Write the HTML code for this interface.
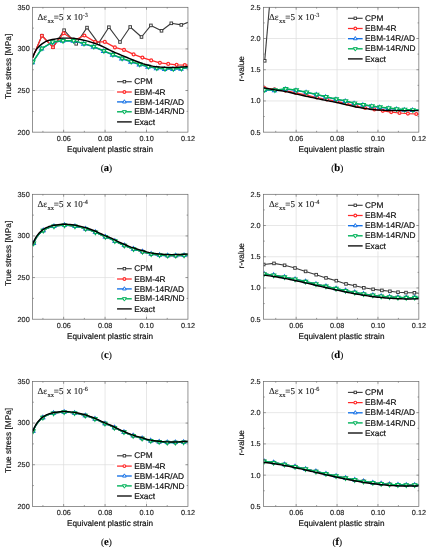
<!DOCTYPE html>
<html lang="en">
<head>
<meta charset="utf-8">
<title>Stress and r-value predictions</title>
<style>
html,body{margin:0;padding:0;background:#fff;}
body{width:430px;height:550px;overflow:hidden;}
svg{display:block;}
text{text-rendering:geometricPrecision;}
</style>
</head>
<body>
<svg width="430" height="550" viewBox="0 0 430 550">
<defs><clipPath id="c0"><rect x="32.55" y="7.3" width="155.4" height="124.85"/></clipPath><clipPath id="c1"><rect x="263.45" y="7.3" width="155.4" height="124.85"/></clipPath><clipPath id="c2"><rect x="32.55" y="194.3" width="155.4" height="124.9"/></clipPath><clipPath id="c3"><rect x="263.45" y="194.3" width="155.4" height="124.9"/></clipPath><clipPath id="c4"><rect x="32.55" y="381.4" width="155.4" height="125"/></clipPath><clipPath id="c5"><rect x="263.45" y="381.4" width="155.4" height="125"/></clipPath></defs>
<rect width="430" height="550" fill="#fff"/>
<path d="M63.63 7.3V132.15M105.07 7.3V132.15M146.51 7.3V132.15M32.55 90.53H187.95M32.55 48.92H187.95" stroke="#dcdcdc" stroke-width="0.7" fill="none"/>
<g clip-path="url(#c0)"><path d="M32.5 57.9L41.9 35.7L53 47.2L64.1 30.2L76.2 43.8L87 27.6L98.5 43.4L108.9 27.2L120 42L130.2 27L141.5 37L150.9 25.4L161.5 30.8L171.3 23.3L181.3 24.9L188 22.3" fill="none" stroke="#3a3a3a" stroke-width="1.1" stroke-linejoin="round"/><g fill="#fff" stroke="#3a3a3a" stroke-width="0.95"><rect x="40.6" y="34.4" width="2.6" height="2.6"/><rect x="51.7" y="45.9" width="2.6" height="2.6"/><rect x="62.8" y="28.9" width="2.6" height="2.6"/><rect x="74.9" y="42.5" width="2.6" height="2.6"/><rect x="85.7" y="26.3" width="2.6" height="2.6"/><rect x="97.2" y="42.1" width="2.6" height="2.6"/><rect x="107.6" y="25.9" width="2.6" height="2.6"/><rect x="118.7" y="40.7" width="2.6" height="2.6"/><rect x="128.9" y="25.7" width="2.6" height="2.6"/><rect x="140.2" y="35.7" width="2.6" height="2.6"/><rect x="149.6" y="24.1" width="2.6" height="2.6"/><rect x="160.2" y="29.5" width="2.6" height="2.6"/><rect x="170" y="22" width="2.6" height="2.6"/><rect x="180" y="23.6" width="2.6" height="2.6"/></g><path d="M32.5 57.9L41.9 35.7L53 47.2L63.6 33.2L74.3 40.3L84.4 35.5L95.1 41.9L104.8 41.9L114.9 47.4L124 49.9L133.6 54.4L142.4 57.6L151.2 60.4L159.9 62.8L168.2 63.9L176.6 64.8L184.8 65.1L188 65.2" fill="none" stroke="#ff2a2a" stroke-width="1.25" stroke-linejoin="round"/><g fill="#fff" stroke="#ff2a2a" stroke-width="1.25"><circle cx="41.9" cy="35.7" r="1.45"/><circle cx="53" cy="47.2" r="1.45"/><circle cx="63.6" cy="33.2" r="1.45"/><circle cx="74.3" cy="40.3" r="1.45"/><circle cx="84.4" cy="35.5" r="1.45"/><circle cx="95.1" cy="41.9" r="1.45"/><circle cx="104.8" cy="41.9" r="1.45"/><circle cx="114.9" cy="47.4" r="1.45"/><circle cx="124" cy="49.9" r="1.45"/><circle cx="133.6" cy="54.4" r="1.45"/><circle cx="142.4" cy="57.6" r="1.45"/><circle cx="151.2" cy="60.4" r="1.45"/><circle cx="159.9" cy="62.8" r="1.45"/><circle cx="168.2" cy="63.9" r="1.45"/><circle cx="176.6" cy="64.8" r="1.45"/><circle cx="184.8" cy="65.1" r="1.45"/></g><path d="M32.7 62.25L41.8 48.55L52.5 42.25L62.9 40.95L73.6 40.95L83.9 43.85L93.7 46.85L103.8 51.05L112.8 54.85L122 58.55L131.1 61.75L139.6 64.55L148.2 66.85L156.7 68.35L164.9 69.05L173.2 69.05L181.3 68.75L187.9 67.75" fill="none" stroke="#1470e6" stroke-width="1.35" stroke-linejoin="round"/><g fill="#fff" stroke="#1470e6" stroke-width="1.1"><path d="M32.4 60.25L34.35 63.62L30.45 63.62Z"/><path d="M41.5 46.55L43.45 49.92L39.55 49.92Z"/><path d="M52.2 40.25L54.15 43.62L50.25 43.62Z"/><path d="M62.6 38.95L64.55 42.32L60.65 42.32Z"/><path d="M73.3 38.95L75.25 42.32L71.35 42.32Z"/><path d="M83.6 41.85L85.55 45.22L81.65 45.22Z"/><path d="M93.4 44.85L95.35 48.22L91.45 48.22Z"/><path d="M103.5 49.05L105.45 52.42L101.55 52.42Z"/><path d="M112.5 52.85L114.45 56.22L110.55 56.22Z"/><path d="M121.7 56.55L123.65 59.92L119.75 59.92Z"/><path d="M130.8 59.75L132.75 63.12L128.85 63.12Z"/><path d="M139.3 62.55L141.25 65.92L137.35 65.92Z"/><path d="M147.9 64.85L149.85 68.22L145.95 68.22Z"/><path d="M156.4 66.35L158.35 69.72L154.45 69.72Z"/><path d="M164.6 67.05L166.55 70.42L162.65 70.42Z"/><path d="M172.9 67.05L174.85 70.42L170.95 70.42Z"/><path d="M181 66.75L182.95 70.12L179.05 70.12Z"/></g><path d="M32.8 62L41.9 48.3L52.6 42L63 40.7L73.7 40.7L84 43.6L93.8 46.6L103.9 50.8L112.9 54.6L122.1 58.3L131.2 61.5L139.7 64.3L148.3 66.6L156.8 68.1L165 68.8L173.3 68.8L181.4 68.5L188 67.5" fill="none" stroke="#00b25a" stroke-width="1.4" stroke-linejoin="round"/><g fill="#fff" stroke="#00b25a" stroke-width="1.1"><path d="M32.8 64.42L34.9 60.79L30.7 60.79Z"/><path d="M41.9 50.72L44 47.09L39.8 47.09Z"/><path d="M52.6 44.42L54.7 40.79L50.5 40.79Z"/><path d="M63 43.12L65.1 39.49L60.9 39.49Z"/><path d="M73.7 43.12L75.8 39.49L71.6 39.49Z"/><path d="M84 46.02L86.1 42.39L81.9 42.39Z"/><path d="M93.8 49.02L95.9 45.39L91.7 45.39Z"/><path d="M103.9 53.22L106 49.59L101.8 49.59Z"/><path d="M112.9 57.02L115 53.39L110.8 53.39Z"/><path d="M122.1 60.72L124.2 57.09L120 57.09Z"/><path d="M131.2 63.92L133.3 60.29L129.1 60.29Z"/><path d="M139.7 66.72L141.8 63.09L137.6 63.09Z"/><path d="M148.3 69.02L150.4 65.39L146.2 65.39Z"/><path d="M156.8 70.52L158.9 66.89L154.7 66.89Z"/><path d="M165 71.22L167.1 67.59L162.9 67.59Z"/><path d="M173.3 71.22L175.4 67.59L171.2 67.59Z"/><path d="M181.4 70.92L183.5 67.29L179.3 67.29Z"/></g><path d="M32.55 57.7L34.52 52.86L36.49 49.31L38.46 46.97L40.42 45.15L42.39 43.65L44.36 42.33L46.33 41.24L48.3 40.49L50.27 39.99L52.23 39.58L54.2 39.2L56.17 38.86L58.14 38.59L60.11 38.34L62.08 38.15L64.04 38.1L66.01 38.1L67.98 38.1L69.95 38.1L71.92 38.13L73.89 38.31L75.85 38.6L77.82 38.97L79.79 39.37L81.76 39.75L83.73 40.17L85.7 40.65L87.66 41.17L89.63 41.72L91.6 42.32L93.57 42.98L95.54 43.67L97.51 44.39L99.47 45.16L101.44 46.02L103.41 46.97L105.38 47.97L107.35 48.99L109.32 49.96L111.28 50.86L113.25 51.73L115.22 52.58L117.19 53.41L119.16 54.24L121.13 55.06L123.09 55.88L125.06 56.71L127.03 57.54L129 58.37L130.97 59.17L132.94 59.98L134.9 60.76L136.87 61.52L138.84 62.24L140.81 62.94L142.78 63.62L144.75 64.25L146.71 64.79L148.68 65.27L150.65 65.71L152.62 66.1L154.59 66.42L156.56 66.68L158.52 66.91L160.49 67.1L162.46 67.25L164.43 67.33L166.4 67.4L168.37 67.46L170.33 67.49L172.3 67.5L174.27 67.45L176.24 67.35L178.21 67.22L180.18 67.1L182.14 66.99L184.11 66.87L186.08 66.74L188.05 66.6" fill="none" stroke="#000" stroke-width="1.45" stroke-linejoin="round"/></g>
<path d="M63.63 132.15v-2.4M63.63 7.3v2.4M105.07 132.15v-2.4M105.07 7.3v2.4M146.51 132.15v-2.4M146.51 7.3v2.4M42.91 132.15v-1.3M42.91 7.3v1.3M84.35 132.15v-1.3M84.35 7.3v1.3M125.79 132.15v-1.3M125.79 7.3v1.3M167.23 132.15v-1.3M167.23 7.3v1.3M32.55 90.53h2.4M187.95 90.53h-2.4M32.55 48.92h2.4M187.95 48.92h-2.4M32.55 111.34h1.3M187.95 111.34h-1.3M32.55 69.73h1.3M187.95 69.73h-1.3M32.55 28.11h1.3M187.95 28.11h-1.3" stroke="#666" stroke-width="0.65" fill="none"/><rect x="32.55" y="7.3" width="155.4" height="124.85" fill="none" stroke="#666" stroke-width="0.7"/><g font-family='"Liberation Sans", Arial, sans-serif' font-size="7.3" fill="#222" stroke="#222" stroke-width="0.15"><text x="63.73" y="140.65" text-anchor="middle">0.06</text><text x="105.17" y="140.65" text-anchor="middle">0.08</text><text x="146.61" y="140.65" text-anchor="middle">0.10</text><text x="188.05" y="140.65" text-anchor="middle">0.12</text><text x="29.75" y="134.5" text-anchor="end">200</text><text x="29.75" y="92.88" text-anchor="end">250</text><text x="29.75" y="51.27" text-anchor="end">300</text><text x="29.75" y="9.65" text-anchor="end">350</text></g><text x="110.05" y="152.15" text-anchor="middle" font-family='"Liberation Sans", Arial, sans-serif' font-size="8.2" fill="#111" stroke="#111" stroke-width="0.18">Equivalent plastic strain</text><text transform="translate(10.55 66.4) rotate(-90)" text-anchor="middle" font-family='"Liberation Sans", Arial, sans-serif' font-size="8.3" fill="#111" stroke="#111" stroke-width="0.18">True stress [MPa]</text>
<rect x="114.55" y="74.9" width="70.5" height="52.4" fill="#fff"/><path d="M117.05 81.7H131.75" stroke="#3a3a3a" stroke-width="1.1" fill="none"/><g fill="#fff" stroke="#3a3a3a" stroke-width="0.9"><rect x="123.17" y="80.47" width="2.47" height="2.47"/></g><text x="134.15" y="84.3" font-family='"Liberation Sans", Arial, sans-serif' font-size="8.33" fill="#111" stroke="#111" stroke-width="0.18">CPM</text><path d="M117.05 92H131.75" stroke="#ff2a2a" stroke-width="1.25" fill="none"/><g fill="#fff" stroke="#ff2a2a" stroke-width="1.1"><circle cx="124.4" cy="92" r="1.38"/></g><text x="134.15" y="94.6" font-family='"Liberation Sans", Arial, sans-serif' font-size="8.33" fill="#111" stroke="#111" stroke-width="0.18">EBM-4R</text><path d="M117.05 101.9H131.75" stroke="#1470e6" stroke-width="1.35" fill="none"/><g fill="#fff" stroke="#1470e6" stroke-width="1.0"><path d="M124.4 99.76L126.25 102.96L122.55 102.96Z"/></g><text x="134.15" y="104.5" font-family='"Liberation Sans", Arial, sans-serif' font-size="8.33" fill="#111" stroke="#111" stroke-width="0.18">EBM-14R/AD</text><path d="M117.05 111.8H131.75" stroke="#00b25a" stroke-width="1.4" fill="none"/><g fill="#fff" stroke="#00b25a" stroke-width="1.0"><path d="M124.4 114.1L126.4 110.65L122.41 110.65Z"/></g><text x="134.15" y="114.4" font-family='"Liberation Sans", Arial, sans-serif' font-size="8.33" fill="#111" stroke="#111" stroke-width="0.18">EBM-14R/ND</text><path d="M117.05 121.9H131.75" stroke="#000" stroke-width="1.3" fill="none"/><text x="134.15" y="124.5" font-family='"Liberation Sans", Arial, sans-serif' font-size="8.33" fill="#111" stroke="#111" stroke-width="0.18">Exact</text>
<g font-family='"Liberation Serif", "Times New Roman", serif' font-size="9" fill="#222" stroke="#222" stroke-width="0.12"><text x="37.55" y="20.2">Δε</text><text x="47.45" y="22.5" font-size="6.6">xx</text><text x="53.85" y="20.2">=5</text><text x="66.65" y="20.2" font-family='"Liberation Sans", Arial, sans-serif' font-size="8.8">x</text><text x="73.85" y="20.2">10</text><text x="82.75" y="16.5" font-size="6.2">-3</text></g>
<text x="106.35" y="171.3" text-anchor="middle" font-family='"Liberation Serif", "Times New Roman", serif' font-size="9.2" fill="#000" stroke="#000" stroke-width="0.12">(<tspan font-weight="bold" font-size="10.6">a</tspan>)</text>
<path d="M296.17 7.3V132.15M337.06 7.3V132.15M377.96 7.3V132.15M263.45 100.94H418.85M263.45 69.73H418.85M263.45 38.51H418.85" stroke="#dcdcdc" stroke-width="0.7" fill="none"/>
<g clip-path="url(#c1)"><path d="M264.7 60.8L274 -46" fill="none" stroke="#3a3a3a" stroke-width="1.1" stroke-linejoin="round"/><g fill="#fff" stroke="#3a3a3a" stroke-width="0.95"><rect x="263.4" y="59.5" width="2.6" height="2.6"/><rect x="272.7" y="-47.3" width="2.6" height="2.6"/></g><path d="M264.5 88L274.5 89.2L285.5 90.6L296 92.9L306.5 95.2L317 97.5L327 99.5L337 101.4L346.8 103.7L356.4 106L365.1 108L374.4 109.4L382.8 110.8L391.2 112.1L399.5 113L407.9 113.6L416.3 114L419 114.1" fill="none" stroke="#ff2a2a" stroke-width="1.25" stroke-linejoin="round"/><g fill="#fff" stroke="#ff2a2a" stroke-width="1.25"><circle cx="264.5" cy="88" r="1.45"/><circle cx="274.5" cy="89.2" r="1.45"/><circle cx="285.5" cy="90.6" r="1.45"/><circle cx="296" cy="92.9" r="1.45"/><circle cx="306.5" cy="95.2" r="1.45"/><circle cx="317" cy="97.5" r="1.45"/><circle cx="327" cy="99.5" r="1.45"/><circle cx="337" cy="101.4" r="1.45"/><circle cx="346.8" cy="103.7" r="1.45"/><circle cx="356.4" cy="106" r="1.45"/><circle cx="365.1" cy="108" r="1.45"/><circle cx="374.4" cy="109.4" r="1.45"/><circle cx="382.8" cy="110.8" r="1.45"/><circle cx="391.2" cy="112.1" r="1.45"/><circle cx="399.5" cy="113" r="1.45"/><circle cx="407.9" cy="113.6" r="1.45"/><circle cx="416.3" cy="114" r="1.45"/></g><path d="M264.6 90.05L274.8 90.35L285.6 89.05L296.2 90.35L306.4 92.45L316.6 94.65L325.9 96.95L336.2 99.35L345.5 101.15L354.4 103.45L363.2 104.95L371.9 106.25L379.9 107.35L388.6 108.25L396.6 109.15L404.6 109.75L412.8 110.15L418.9 110.25" fill="none" stroke="#1470e6" stroke-width="1.35" stroke-linejoin="round"/><g fill="#fff" stroke="#1470e6" stroke-width="1.1"><path d="M264.3 88.05L266.25 91.42L262.35 91.42Z"/><path d="M274.5 88.35L276.45 91.72L272.55 91.72Z"/><path d="M285.3 87.05L287.25 90.42L283.35 90.42Z"/><path d="M295.9 88.35L297.85 91.72L293.95 91.72Z"/><path d="M306.1 90.45L308.05 93.82L304.15 93.82Z"/><path d="M316.3 92.65L318.25 96.02L314.35 96.02Z"/><path d="M325.6 94.95L327.55 98.32L323.65 98.32Z"/><path d="M335.9 97.35L337.85 100.72L333.95 100.72Z"/><path d="M345.2 99.15L347.15 102.52L343.25 102.52Z"/><path d="M354.1 101.45L356.05 104.82L352.15 104.82Z"/><path d="M362.9 102.95L364.85 106.32L360.95 106.32Z"/><path d="M371.6 104.25L373.55 107.62L369.65 107.62Z"/><path d="M379.6 105.35L381.55 108.72L377.65 108.72Z"/><path d="M388.3 106.25L390.25 109.62L386.35 109.62Z"/><path d="M396.3 107.15L398.25 110.52L394.35 110.52Z"/><path d="M404.3 107.75L406.25 111.12L402.35 111.12Z"/><path d="M412.5 108.15L414.45 111.52L410.55 111.52Z"/></g><path d="M264.7 89.8L274.9 90.1L285.7 88.8L296.3 90.1L306.5 92.2L316.7 94.4L326 96.7L336.3 99.1L345.6 100.9L354.5 103.2L363.3 104.7L372 106L380 107.1L388.7 108L396.7 108.9L404.7 109.5L412.9 109.9L419 110" fill="none" stroke="#00b25a" stroke-width="1.4" stroke-linejoin="round"/><g fill="#fff" stroke="#00b25a" stroke-width="1.1"><path d="M264.7 92.22L266.8 88.59L262.6 88.59Z"/><path d="M274.9 92.52L277 88.89L272.8 88.89Z"/><path d="M285.7 91.22L287.8 87.59L283.6 87.59Z"/><path d="M296.3 92.52L298.4 88.89L294.2 88.89Z"/><path d="M306.5 94.62L308.6 90.99L304.4 90.99Z"/><path d="M316.7 96.82L318.8 93.19L314.6 93.19Z"/><path d="M326 99.12L328.1 95.49L323.9 95.49Z"/><path d="M336.3 101.52L338.4 97.89L334.2 97.89Z"/><path d="M345.6 103.32L347.7 99.69L343.5 99.69Z"/><path d="M354.5 105.62L356.6 101.99L352.4 101.99Z"/><path d="M363.3 107.12L365.4 103.49L361.2 103.49Z"/><path d="M372 108.42L374.1 104.79L369.9 104.79Z"/><path d="M380 109.52L382.1 105.89L377.9 105.89Z"/><path d="M388.7 110.42L390.8 106.79L386.6 106.79Z"/><path d="M396.7 111.32L398.8 107.69L394.6 107.69Z"/><path d="M404.7 111.92L406.8 108.29L402.6 108.29Z"/><path d="M412.9 112.32L415 108.69L410.8 108.69Z"/></g><path d="M263.45 87.8L265.42 88.15L267.39 88.5L269.36 88.85L271.32 89.19L273.29 89.53L275.26 89.87L277.23 90.19L279.2 90.5L281.17 90.82L283.13 91.14L285.1 91.5L287.07 91.89L289.04 92.31L291.01 92.77L292.98 93.24L294.94 93.7L296.91 94.15L298.88 94.6L300.85 95.04L302.82 95.49L304.79 95.93L306.75 96.37L308.72 96.8L310.69 97.23L312.66 97.65L314.63 98.07L316.6 98.49L318.56 98.9L320.53 99.31L322.5 99.71L324.47 100.1L326.44 100.5L328.41 100.88L330.37 101.25L332.34 101.63L334.31 102.01L336.28 102.41L338.25 102.83L340.22 103.26L342.18 103.71L344.15 104.18L346.12 104.66L348.09 105.14L350.06 105.61L352.03 106.08L353.99 106.52L355.96 106.92L357.93 107.29L359.9 107.63L361.87 107.96L363.84 108.28L365.8 108.6L367.77 108.89L369.74 109.17L371.71 109.41L373.68 109.62L375.65 109.8L377.61 109.93L379.58 110.04L381.55 110.15L383.52 110.25L385.49 110.35L387.46 110.43L389.42 110.5L391.39 110.55L393.36 110.58L395.33 110.6L397.3 110.6L399.27 110.6L401.23 110.6L403.2 110.6L405.17 110.6L407.14 110.6L409.11 110.6L411.08 110.6L413.04 110.6L415.01 110.6L416.98 110.6L418.95 110.6" fill="none" stroke="#000" stroke-width="1.45" stroke-linejoin="round"/></g>
<path d="M296.17 132.15v-2.4M296.17 7.3v2.4M337.06 132.15v-2.4M337.06 7.3v2.4M377.96 132.15v-2.4M377.96 7.3v2.4M275.72 132.15v-1.3M275.72 7.3v1.3M316.61 132.15v-1.3M316.61 7.3v1.3M357.51 132.15v-1.3M357.51 7.3v1.3M398.4 132.15v-1.3M398.4 7.3v1.3M263.45 100.94h2.4M418.85 100.94h-2.4M263.45 69.73h2.4M418.85 69.73h-2.4M263.45 38.51h2.4M418.85 38.51h-2.4M263.45 116.54h1.3M418.85 116.54h-1.3M263.45 85.33h1.3M418.85 85.33h-1.3M263.45 54.12h1.3M418.85 54.12h-1.3M263.45 22.91h1.3M418.85 22.91h-1.3" stroke="#666" stroke-width="0.65" fill="none"/><rect x="263.45" y="7.3" width="155.4" height="124.85" fill="none" stroke="#666" stroke-width="0.7"/><g font-family='"Liberation Sans", Arial, sans-serif' font-size="7.3" fill="#222" stroke="#222" stroke-width="0.15"><text x="296.27" y="140.65" text-anchor="middle">0.06</text><text x="337.16" y="140.65" text-anchor="middle">0.08</text><text x="378.06" y="140.65" text-anchor="middle">0.10</text><text x="418.95" y="140.65" text-anchor="middle">0.12</text><text x="260.65" y="134.5" text-anchor="end">0.5</text><text x="260.65" y="103.29" text-anchor="end">1.0</text><text x="260.65" y="72.08" text-anchor="end">1.5</text><text x="260.65" y="40.86" text-anchor="end">2.0</text><text x="260.65" y="9.65" text-anchor="end">2.5</text></g><text x="341.45" y="152.15" text-anchor="middle" font-family='"Liberation Sans", Arial, sans-serif' font-size="8.2" fill="#111" stroke="#111" stroke-width="0.18">Equivalent plastic strain</text><text transform="translate(244.25 68.7) rotate(-90)" text-anchor="middle" font-family='"Liberation Sans", Arial, sans-serif' font-size="8.3" fill="#111" stroke="#111" stroke-width="0.18">r-value</text>
<rect x="345.45" y="11.5" width="70.5" height="52.8" fill="#fff"/><path d="M347.95 18.3H362.65" stroke="#3a3a3a" stroke-width="1.1" fill="none"/><g fill="#fff" stroke="#3a3a3a" stroke-width="0.9"><rect x="354.06" y="17.07" width="2.47" height="2.47"/></g><text x="365.05" y="20.9" font-family='"Liberation Sans", Arial, sans-serif' font-size="8.33" fill="#111" stroke="#111" stroke-width="0.18">CPM</text><path d="M347.95 28.5H362.65" stroke="#ff2a2a" stroke-width="1.25" fill="none"/><g fill="#fff" stroke="#ff2a2a" stroke-width="1.1"><circle cx="355.3" cy="28.5" r="1.38"/></g><text x="365.05" y="31.1" font-family='"Liberation Sans", Arial, sans-serif' font-size="8.33" fill="#111" stroke="#111" stroke-width="0.18">EBM-4R</text><path d="M347.95 38.7H362.65" stroke="#1470e6" stroke-width="1.35" fill="none"/><g fill="#fff" stroke="#1470e6" stroke-width="1.0"><path d="M355.3 36.56L357.15 39.76L353.45 39.76Z"/></g><text x="365.05" y="41.3" font-family='"Liberation Sans", Arial, sans-serif' font-size="8.33" fill="#111" stroke="#111" stroke-width="0.18">EBM-14R/AD</text><path d="M347.95 48.8H362.65" stroke="#00b25a" stroke-width="1.4" fill="none"/><g fill="#fff" stroke="#00b25a" stroke-width="1.0"><path d="M355.3 51.1L357.29 47.65L353.3 47.65Z"/></g><text x="365.05" y="51.4" font-family='"Liberation Sans", Arial, sans-serif' font-size="8.33" fill="#111" stroke="#111" stroke-width="0.18">EBM-14R/ND</text><path d="M347.95 58.9H362.65" stroke="#000" stroke-width="1.3" fill="none"/><text x="365.05" y="61.5" font-family='"Liberation Sans", Arial, sans-serif' font-size="8.33" fill="#111" stroke="#111" stroke-width="0.18">Exact</text>
<g font-family='"Liberation Serif", "Times New Roman", serif' font-size="9" fill="#222" stroke="#222" stroke-width="0.12"><text x="269.05" y="20.2">Δε</text><text x="278.95" y="22.5" font-size="6.6">xx</text><text x="285.35" y="20.2">=5</text><text x="298.15" y="20.2" font-family='"Liberation Sans", Arial, sans-serif' font-size="8.8">x</text><text x="305.35" y="20.2">10</text><text x="314.25" y="16.5" font-size="6.2">-3</text></g>
<text x="337.25" y="171.3" text-anchor="middle" font-family='"Liberation Serif", "Times New Roman", serif' font-size="9.2" fill="#000" stroke="#000" stroke-width="0.12">(<tspan font-weight="bold" font-size="10.6">b</tspan>)</text>
<path d="M63.63 194.3V319.2M105.07 194.3V319.2M146.51 194.3V319.2M32.55 277.57H187.95M32.55 235.93H187.95" stroke="#dcdcdc" stroke-width="0.7" fill="none"/>
<g clip-path="url(#c2)"><path d="M32.55 245.6L34.52 240.95L36.49 237.4L38.46 234.85L40.42 232.76L42.39 231.08L44.36 229.73L46.33 228.64L48.3 227.81L50.27 227.15L52.23 226.62L54.2 226.24L56.17 225.94L58.14 225.67L60.11 225.44L62.08 225.28L64.04 225.2L66.01 225.23L67.98 225.36L69.95 225.56L71.92 225.81L73.89 226.08L75.85 226.37L77.82 226.73L79.79 227.17L81.76 227.67L83.73 228.2L85.7 228.76L87.66 229.35L89.63 230.01L91.6 230.72L93.57 231.47L95.54 232.26L97.51 233.12L99.47 234.06L101.44 235.01L103.41 235.95L105.38 236.81L107.35 237.56L109.32 238.3L111.28 239.17L113.25 240.18L115.22 241.19L117.19 242.14L119.16 243.08L121.13 243.99L123.09 244.87L125.06 245.71L127.03 246.53L129 247.31L130.97 248.06L132.94 248.76L134.9 249.41L136.87 250.03L138.84 250.61L140.81 251.18L142.78 251.74L144.75 252.31L146.71 252.89L148.68 253.41L150.65 253.85L152.62 254.18L154.59 254.46L156.56 254.71L158.52 254.92L160.49 255.11L162.46 255.3L164.43 255.47L166.4 255.58L168.37 255.6L170.33 255.6L172.3 255.6L174.27 255.6L176.24 255.6L178.21 255.57L180.18 255.51L182.14 255.41L184.11 255.29L186.08 255.15L188.05 255" fill="none" stroke="#3a3a3a" stroke-width="1.1" stroke-linejoin="round"/><g fill="#fff" stroke="#3a3a3a" stroke-width="0.95"><rect x="32.2" y="241.98" width="2.6" height="2.6"/><rect x="41.95" y="229.16" width="2.6" height="2.6"/><rect x="52.65" y="224.98" width="2.6" height="2.6"/><rect x="63.25" y="223.9" width="2.6" height="2.6"/><rect x="73.65" y="224.93" width="2.6" height="2.6"/><rect x="84.35" y="227.44" width="2.6" height="2.6"/><rect x="94.05" y="230.88" width="2.6" height="2.6"/><rect x="104.05" y="235.5" width="2.6" height="2.6"/><rect x="113.55" y="239.7" width="2.6" height="2.6"/><rect x="123.05" y="244.12" width="2.6" height="2.6"/><rect x="132.25" y="247.67" width="2.6" height="2.6"/><rect x="141.25" y="250.37" width="2.6" height="2.6"/><rect x="149.85" y="252.63" width="2.6" height="2.6"/><rect x="158.25" y="253.72" width="2.6" height="2.6"/><rect x="166.35" y="254.3" width="2.6" height="2.6"/><rect x="174.45" y="254.3" width="2.6" height="2.6"/><rect x="182.75" y="254" width="2.6" height="2.6"/></g><path d="M32.55 245.6L34.52 240.95L36.49 237.4L38.46 234.85L40.42 232.76L42.39 231.08L44.36 229.73L46.33 228.64L48.3 227.81L50.27 227.15L52.23 226.62L54.2 226.24L56.17 225.94L58.14 225.67L60.11 225.44L62.08 225.28L64.04 225.2L66.01 225.23L67.98 225.36L69.95 225.56L71.92 225.81L73.89 226.08L75.85 226.37L77.82 226.73L79.79 227.17L81.76 227.67L83.73 228.2L85.7 228.76L87.66 229.35L89.63 230.01L91.6 230.72L93.57 231.47L95.54 232.26L97.51 233.12L99.47 234.06L101.44 235.01L103.41 235.95L105.38 236.81L107.35 237.56L109.32 238.3L111.28 239.17L113.25 240.18L115.22 241.19L117.19 242.14L119.16 243.08L121.13 243.99L123.09 244.87L125.06 245.71L127.03 246.53L129 247.31L130.97 248.06L132.94 248.76L134.9 249.41L136.87 250.03L138.84 250.61L140.81 251.18L142.78 251.74L144.75 252.31L146.71 252.89L148.68 253.41L150.65 253.85L152.62 254.18L154.59 254.46L156.56 254.71L158.52 254.92L160.49 255.11L162.46 255.3L164.43 255.47L166.4 255.58L168.37 255.6L170.33 255.6L172.3 255.6L174.27 255.6L176.24 255.6L178.21 255.57L180.18 255.51L182.14 255.41L184.11 255.29L186.08 255.15L188.05 255" fill="none" stroke="#ff2a2a" stroke-width="1.25" stroke-linejoin="round"/><g fill="#fff" stroke="#ff2a2a" stroke-width="1.25"><circle cx="33.5" cy="243.28" r="1.45"/><circle cx="43.25" cy="230.46" r="1.45"/><circle cx="53.95" cy="226.28" r="1.45"/><circle cx="64.55" cy="225.2" r="1.45"/><circle cx="74.95" cy="226.23" r="1.45"/><circle cx="85.65" cy="228.74" r="1.45"/><circle cx="95.35" cy="232.18" r="1.45"/><circle cx="105.35" cy="236.8" r="1.45"/><circle cx="114.85" cy="241" r="1.45"/><circle cx="124.35" cy="245.42" r="1.45"/><circle cx="133.55" cy="248.97" r="1.45"/><circle cx="142.55" cy="251.67" r="1.45"/><circle cx="151.15" cy="253.93" r="1.45"/><circle cx="159.55" cy="255.02" r="1.45"/><circle cx="167.65" cy="255.6" r="1.45"/><circle cx="175.75" cy="255.6" r="1.45"/><circle cx="184.05" cy="255.3" r="1.45"/></g><path d="M32.55 245.6L34.52 240.95L36.49 237.4L38.46 234.85L40.42 232.76L42.39 231.08L44.36 229.73L46.33 228.64L48.3 227.81L50.27 227.15L52.23 226.62L54.2 226.24L56.17 225.94L58.14 225.67L60.11 225.44L62.08 225.28L64.04 225.2L66.01 225.23L67.98 225.36L69.95 225.56L71.92 225.81L73.89 226.08L75.85 226.37L77.82 226.73L79.79 227.17L81.76 227.67L83.73 228.2L85.7 228.76L87.66 229.35L89.63 230.01L91.6 230.72L93.57 231.47L95.54 232.26L97.51 233.12L99.47 234.06L101.44 235.01L103.41 235.95L105.38 236.81L107.35 237.56L109.32 238.3L111.28 239.17L113.25 240.18L115.22 241.19L117.19 242.14L119.16 243.08L121.13 243.99L123.09 244.87L125.06 245.71L127.03 246.53L129 247.31L130.97 248.06L132.94 248.76L134.9 249.41L136.87 250.03L138.84 250.61L140.81 251.18L142.78 251.74L144.75 252.31L146.71 252.89L148.68 253.41L150.65 253.85L152.62 254.18L154.59 254.46L156.56 254.71L158.52 254.92L160.49 255.11L162.46 255.3L164.43 255.47L166.4 255.58L168.37 255.6L170.33 255.6L172.3 255.6L174.27 255.6L176.24 255.6L178.21 255.57L180.18 255.51L182.14 255.41L184.11 255.29L186.08 255.15L188.05 255" fill="none" stroke="#1470e6" stroke-width="1.35" stroke-linejoin="round"/><g fill="#fff" stroke="#1470e6" stroke-width="1.1"><path d="M33.5 241.03L35.45 244.4L31.55 244.4Z"/><path d="M43.25 228.21L45.2 231.58L41.3 231.58Z"/><path d="M53.95 224.03L55.9 227.4L52 227.4Z"/><path d="M64.55 222.95L66.5 226.32L62.6 226.32Z"/><path d="M74.95 223.98L76.9 227.35L73 227.35Z"/><path d="M85.65 226.49L87.6 229.86L83.7 229.86Z"/><path d="M95.35 229.93L97.3 233.3L93.4 233.3Z"/><path d="M105.35 234.55L107.3 237.92L103.4 237.92Z"/><path d="M114.85 238.75L116.8 242.12L112.9 242.12Z"/><path d="M124.35 243.17L126.3 246.54L122.4 246.54Z"/><path d="M133.55 246.72L135.5 250.09L131.6 250.09Z"/><path d="M142.55 249.42L144.5 252.79L140.6 252.79Z"/><path d="M151.15 251.68L153.1 255.05L149.2 255.05Z"/><path d="M159.55 252.77L161.5 256.14L157.6 256.14Z"/><path d="M167.65 253.35L169.6 256.72L165.7 256.72Z"/><path d="M175.75 253.35L177.7 256.72L173.8 256.72Z"/><path d="M184.05 253.05L186 256.42L182.1 256.42Z"/></g><path d="M32.55 245.6L34.52 240.95L36.49 237.4L38.46 234.85L40.42 232.76L42.39 231.08L44.36 229.73L46.33 228.64L48.3 227.81L50.27 227.15L52.23 226.62L54.2 226.24L56.17 225.94L58.14 225.67L60.11 225.44L62.08 225.28L64.04 225.2L66.01 225.23L67.98 225.36L69.95 225.56L71.92 225.81L73.89 226.08L75.85 226.37L77.82 226.73L79.79 227.17L81.76 227.67L83.73 228.2L85.7 228.76L87.66 229.35L89.63 230.01L91.6 230.72L93.57 231.47L95.54 232.26L97.51 233.12L99.47 234.06L101.44 235.01L103.41 235.95L105.38 236.81L107.35 237.56L109.32 238.3L111.28 239.17L113.25 240.18L115.22 241.19L117.19 242.14L119.16 243.08L121.13 243.99L123.09 244.87L125.06 245.71L127.03 246.53L129 247.31L130.97 248.06L132.94 248.76L134.9 249.41L136.87 250.03L138.84 250.61L140.81 251.18L142.78 251.74L144.75 252.31L146.71 252.89L148.68 253.41L150.65 253.85L152.62 254.18L154.59 254.46L156.56 254.71L158.52 254.92L160.49 255.11L162.46 255.3L164.43 255.47L166.4 255.58L168.37 255.6L170.33 255.6L172.3 255.6L174.27 255.6L176.24 255.6L178.21 255.57L180.18 255.51L182.14 255.41L184.11 255.29L186.08 255.15L188.05 255" fill="none" stroke="#00b25a" stroke-width="1.4" stroke-linejoin="round"/><g fill="#fff" stroke="#00b25a" stroke-width="1.1"><path d="M33.5 245.7L35.6 242.07L31.4 242.07Z"/><path d="M43.25 232.88L45.35 229.25L41.15 229.25Z"/><path d="M53.95 228.7L56.05 225.07L51.85 225.07Z"/><path d="M64.55 227.62L66.65 223.99L62.45 223.99Z"/><path d="M74.95 228.65L77.05 225.02L72.85 225.02Z"/><path d="M85.65 231.16L87.75 227.53L83.55 227.53Z"/><path d="M95.35 234.6L97.45 230.97L93.25 230.97Z"/><path d="M105.35 239.22L107.45 235.59L103.25 235.59Z"/><path d="M114.85 243.42L116.95 239.79L112.75 239.79Z"/><path d="M124.35 247.84L126.45 244.21L122.25 244.21Z"/><path d="M133.55 251.39L135.65 247.76L131.45 247.76Z"/><path d="M142.55 254.09L144.65 250.46L140.45 250.46Z"/><path d="M151.15 256.35L153.25 252.72L149.05 252.72Z"/><path d="M159.55 257.44L161.65 253.81L157.45 253.81Z"/><path d="M167.65 258.02L169.75 254.39L165.55 254.39Z"/><path d="M175.75 258.02L177.85 254.39L173.65 254.39Z"/><path d="M184.05 257.72L186.15 254.09L181.95 254.09Z"/></g><path d="M32.55 244.6L34.52 239.95L36.49 236.4L38.46 233.85L40.42 231.76L42.39 230.08L44.36 228.73L46.33 227.64L48.3 226.81L50.27 226.15L52.23 225.62L54.2 225.24L56.17 224.94L58.14 224.67L60.11 224.44L62.08 224.28L64.04 224.2L66.01 224.23L67.98 224.36L69.95 224.56L71.92 224.81L73.89 225.08L75.85 225.37L77.82 225.73L79.79 226.17L81.76 226.67L83.73 227.2L85.7 227.76L87.66 228.35L89.63 229.01L91.6 229.72L93.57 230.47L95.54 231.26L97.51 232.12L99.47 233.06L101.44 234.01L103.41 234.95L105.38 235.81L107.35 236.56L109.32 237.3L111.28 238.17L113.25 239.18L115.22 240.19L117.19 241.14L119.16 242.08L121.13 242.99L123.09 243.87L125.06 244.71L127.03 245.53L129 246.31L130.97 247.06L132.94 247.76L134.9 248.41L136.87 249.03L138.84 249.61L140.81 250.18L142.78 250.74L144.75 251.31L146.71 251.89L148.68 252.41L150.65 252.85L152.62 253.18L154.59 253.46L156.56 253.71L158.52 253.92L160.49 254.11L162.46 254.3L164.43 254.47L166.4 254.58L168.37 254.6L170.33 254.6L172.3 254.6L174.27 254.6L176.24 254.6L178.21 254.57L180.18 254.51L182.14 254.41L184.11 254.29L186.08 254.15L188.05 254" fill="none" stroke="#000" stroke-width="1.45" stroke-linejoin="round"/></g>
<path d="M63.63 319.2v-2.4M63.63 194.3v2.4M105.07 319.2v-2.4M105.07 194.3v2.4M146.51 319.2v-2.4M146.51 194.3v2.4M42.91 319.2v-1.3M42.91 194.3v1.3M84.35 319.2v-1.3M84.35 194.3v1.3M125.79 319.2v-1.3M125.79 194.3v1.3M167.23 319.2v-1.3M167.23 194.3v1.3M32.55 277.57h2.4M187.95 277.57h-2.4M32.55 235.93h2.4M187.95 235.93h-2.4M32.55 298.38h1.3M187.95 298.38h-1.3M32.55 256.75h1.3M187.95 256.75h-1.3M32.55 215.12h1.3M187.95 215.12h-1.3" stroke="#666" stroke-width="0.65" fill="none"/><rect x="32.55" y="194.3" width="155.4" height="124.9" fill="none" stroke="#666" stroke-width="0.7"/><g font-family='"Liberation Sans", Arial, sans-serif' font-size="7.3" fill="#222" stroke="#222" stroke-width="0.15"><text x="63.73" y="327.7" text-anchor="middle">0.06</text><text x="105.17" y="327.7" text-anchor="middle">0.08</text><text x="146.61" y="327.7" text-anchor="middle">0.10</text><text x="188.05" y="327.7" text-anchor="middle">0.12</text><text x="29.75" y="321.55" text-anchor="end">200</text><text x="29.75" y="279.92" text-anchor="end">250</text><text x="29.75" y="238.28" text-anchor="end">300</text><text x="29.75" y="196.65" text-anchor="end">350</text></g><text x="110.05" y="339.2" text-anchor="middle" font-family='"Liberation Sans", Arial, sans-serif' font-size="8.2" fill="#111" stroke="#111" stroke-width="0.18">Equivalent plastic strain</text><text transform="translate(10.55 253.4) rotate(-90)" text-anchor="middle" font-family='"Liberation Sans", Arial, sans-serif' font-size="8.3" fill="#111" stroke="#111" stroke-width="0.18">True stress [MPa]</text>
<rect x="114.55" y="261.9" width="70.5" height="52.4" fill="#fff"/><path d="M117.05 268.7H131.75" stroke="#3a3a3a" stroke-width="1.1" fill="none"/><g fill="#fff" stroke="#3a3a3a" stroke-width="0.9"><rect x="123.17" y="267.47" width="2.47" height="2.47"/></g><text x="134.15" y="271.3" font-family='"Liberation Sans", Arial, sans-serif' font-size="8.33" fill="#111" stroke="#111" stroke-width="0.18">CPM</text><path d="M117.05 279H131.75" stroke="#ff2a2a" stroke-width="1.25" fill="none"/><g fill="#fff" stroke="#ff2a2a" stroke-width="1.1"><circle cx="124.4" cy="279" r="1.38"/></g><text x="134.15" y="281.6" font-family='"Liberation Sans", Arial, sans-serif' font-size="8.33" fill="#111" stroke="#111" stroke-width="0.18">EBM-4R</text><path d="M117.05 288.9H131.75" stroke="#1470e6" stroke-width="1.35" fill="none"/><g fill="#fff" stroke="#1470e6" stroke-width="1.0"><path d="M124.4 286.76L126.25 289.96L122.55 289.96Z"/></g><text x="134.15" y="291.5" font-family='"Liberation Sans", Arial, sans-serif' font-size="8.33" fill="#111" stroke="#111" stroke-width="0.18">EBM-14R/AD</text><path d="M117.05 298.8H131.75" stroke="#00b25a" stroke-width="1.4" fill="none"/><g fill="#fff" stroke="#00b25a" stroke-width="1.0"><path d="M124.4 301.1L126.4 297.65L122.41 297.65Z"/></g><text x="134.15" y="301.4" font-family='"Liberation Sans", Arial, sans-serif' font-size="8.33" fill="#111" stroke="#111" stroke-width="0.18">EBM-14R/ND</text><path d="M117.05 308.9H131.75" stroke="#000" stroke-width="1.3" fill="none"/><text x="134.15" y="311.5" font-family='"Liberation Sans", Arial, sans-serif' font-size="8.33" fill="#111" stroke="#111" stroke-width="0.18">Exact</text>
<g font-family='"Liberation Serif", "Times New Roman", serif' font-size="9" fill="#222" stroke="#222" stroke-width="0.12"><text x="37.55" y="207.2">Δε</text><text x="47.45" y="209.5" font-size="6.6">xx</text><text x="53.85" y="207.2">=5</text><text x="66.65" y="207.2" font-family='"Liberation Sans", Arial, sans-serif' font-size="8.8">x</text><text x="73.85" y="207.2">10</text><text x="82.75" y="203.5" font-size="6.2">-4</text></g>
<text x="106.35" y="358.3" text-anchor="middle" font-family='"Liberation Serif", "Times New Roman", serif' font-size="9.2" fill="#000" stroke="#000" stroke-width="0.12">(<tspan font-weight="bold" font-size="10.6">c</tspan>)</text>
<path d="M296.17 194.3V319.2M337.06 194.3V319.2M377.96 194.3V319.2M263.45 287.98H418.85M263.45 256.75H418.85M263.45 225.53H418.85" stroke="#dcdcdc" stroke-width="0.7" fill="none"/>
<g clip-path="url(#c3)"><path d="M263.7 264.5L274 263.4L284.6 265.3L295 268L305.6 271.4L316.2 274.7L326 277.9L336.3 280.7L346 283.9L354.9 285.7L363.8 287.8L373.1 289.3L381.9 290.4L389.9 291.3L398 292.2L406 292.6L414.4 292.8L419 293.2" fill="none" stroke="#3a3a3a" stroke-width="1.1" stroke-linejoin="round"/><g fill="#fff" stroke="#3a3a3a" stroke-width="0.95"><rect x="262.4" y="263.2" width="2.6" height="2.6"/><rect x="272.7" y="262.1" width="2.6" height="2.6"/><rect x="283.3" y="264" width="2.6" height="2.6"/><rect x="293.7" y="266.7" width="2.6" height="2.6"/><rect x="304.3" y="270.1" width="2.6" height="2.6"/><rect x="314.9" y="273.4" width="2.6" height="2.6"/><rect x="324.7" y="276.6" width="2.6" height="2.6"/><rect x="335" y="279.4" width="2.6" height="2.6"/><rect x="344.7" y="282.6" width="2.6" height="2.6"/><rect x="353.6" y="284.4" width="2.6" height="2.6"/><rect x="362.5" y="286.5" width="2.6" height="2.6"/><rect x="371.8" y="288" width="2.6" height="2.6"/><rect x="380.6" y="289.1" width="2.6" height="2.6"/><rect x="388.6" y="290" width="2.6" height="2.6"/><rect x="396.7" y="290.9" width="2.6" height="2.6"/><rect x="404.7" y="291.3" width="2.6" height="2.6"/><rect x="413.1" y="291.5" width="2.6" height="2.6"/></g><path d="M263.45 273.84L265.42 274.07L267.39 274.31L269.36 274.57L271.32 274.85L273.29 275.14L275.26 275.45L277.23 275.78L279.2 276.11L281.17 276.46L283.13 276.82L285.1 277.2L287.07 277.58L289.04 277.98L291.01 278.38L292.98 278.79L294.94 279.21L296.91 279.64L298.88 280.07L300.85 280.51L302.82 280.95L304.79 281.4L306.75 281.86L308.72 282.31L310.69 282.77L312.66 283.23L314.63 283.69L316.6 284.15L318.56 284.62L320.53 285.08L322.5 285.54L324.47 286L326.44 286.45L328.41 286.9L330.37 287.35L332.34 287.8L334.31 288.24L336.28 288.68L338.25 289.11L340.22 289.53L342.18 289.95L344.15 290.36L346.12 290.76L348.09 291.16L350.06 291.54L352.03 291.92L353.99 292.29L355.96 292.65L357.93 293L359.9 293.34L361.87 293.67L363.84 293.98L365.8 294.29L367.77 294.58L369.74 294.86L371.71 295.13L373.68 295.39L375.65 295.63L377.61 295.86L379.58 296.08L381.55 296.28L383.52 296.47L385.49 296.65L387.46 296.81L389.42 296.96L391.39 297.09L393.36 297.21L395.33 297.32L397.3 297.41L399.27 297.48L401.23 297.54L403.2 297.59L405.17 297.62L407.14 297.64L409.11 297.64L411.08 297.63L413.04 297.6L415.01 297.56L416.98 297.51L418.95 297.44" fill="none" stroke="#ff2a2a" stroke-width="1.25" stroke-linejoin="round"/><g fill="#fff" stroke="#ff2a2a" stroke-width="1.25"><circle cx="264.05" cy="273.91" r="1.45"/><circle cx="273.65" cy="275.2" r="1.45"/><circle cx="284.45" cy="277.07" r="1.45"/><circle cx="295.05" cy="279.23" r="1.45"/><circle cx="305.55" cy="281.58" r="1.45"/><circle cx="315.95" cy="284" r="1.45"/><circle cx="325.95" cy="286.34" r="1.45"/><circle cx="336.05" cy="288.63" r="1.45"/><circle cx="345.55" cy="290.65" r="1.45"/><circle cx="354.75" cy="292.43" r="1.45"/><circle cx="363.55" cy="293.94" r="1.45"/><circle cx="372.85" cy="295.28" r="1.45"/><circle cx="381.15" cy="296.24" r="1.45"/><circle cx="389.55" cy="296.97" r="1.45"/><circle cx="397.95" cy="297.43" r="1.45"/><circle cx="406.25" cy="297.63" r="1.45"/><circle cx="414.65" cy="297.57" r="1.45"/></g><path d="M263.45 273.84L265.42 274.07L267.39 274.31L269.36 274.57L271.32 274.85L273.29 275.14L275.26 275.45L277.23 275.78L279.2 276.11L281.17 276.46L283.13 276.82L285.1 277.2L287.07 277.58L289.04 277.98L291.01 278.38L292.98 278.79L294.94 279.21L296.91 279.64L298.88 280.07L300.85 280.51L302.82 280.95L304.79 281.4L306.75 281.86L308.72 282.31L310.69 282.77L312.66 283.23L314.63 283.69L316.6 284.15L318.56 284.62L320.53 285.08L322.5 285.54L324.47 286L326.44 286.45L328.41 286.9L330.37 287.35L332.34 287.8L334.31 288.24L336.28 288.68L338.25 289.11L340.22 289.53L342.18 289.95L344.15 290.36L346.12 290.76L348.09 291.16L350.06 291.54L352.03 291.92L353.99 292.29L355.96 292.65L357.93 293L359.9 293.34L361.87 293.67L363.84 293.98L365.8 294.29L367.77 294.58L369.74 294.86L371.71 295.13L373.68 295.39L375.65 295.63L377.61 295.86L379.58 296.08L381.55 296.28L383.52 296.47L385.49 296.65L387.46 296.81L389.42 296.96L391.39 297.09L393.36 297.21L395.33 297.32L397.3 297.41L399.27 297.48L401.23 297.54L403.2 297.59L405.17 297.62L407.14 297.64L409.11 297.64L411.08 297.63L413.04 297.6L415.01 297.56L416.98 297.51L418.95 297.44" fill="none" stroke="#1470e6" stroke-width="1.35" stroke-linejoin="round"/><g fill="#fff" stroke="#1470e6" stroke-width="1.1"><path d="M264.05 271.66L266 275.03L262.1 275.03Z"/><path d="M273.65 272.95L275.6 276.32L271.7 276.32Z"/><path d="M284.45 274.82L286.4 278.19L282.5 278.19Z"/><path d="M295.05 276.98L297 280.35L293.1 280.35Z"/><path d="M305.55 279.33L307.5 282.7L303.6 282.7Z"/><path d="M315.95 281.75L317.9 285.12L314 285.12Z"/><path d="M325.95 284.09L327.9 287.46L324 287.46Z"/><path d="M336.05 286.38L338 289.75L334.1 289.75Z"/><path d="M345.55 288.4L347.5 291.77L343.6 291.77Z"/><path d="M354.75 290.18L356.7 293.55L352.8 293.55Z"/><path d="M363.55 291.69L365.5 295.06L361.6 295.06Z"/><path d="M372.85 293.03L374.8 296.4L370.9 296.4Z"/><path d="M381.15 293.99L383.1 297.36L379.2 297.36Z"/><path d="M389.55 294.72L391.5 298.09L387.6 298.09Z"/><path d="M397.95 295.18L399.9 298.55L396 298.55Z"/><path d="M406.25 295.38L408.2 298.75L404.3 298.75Z"/><path d="M414.65 295.32L416.6 298.69L412.7 298.69Z"/></g><path d="M263.45 273.84L265.42 274.07L267.39 274.31L269.36 274.57L271.32 274.85L273.29 275.14L275.26 275.45L277.23 275.78L279.2 276.11L281.17 276.46L283.13 276.82L285.1 277.2L287.07 277.58L289.04 277.98L291.01 278.38L292.98 278.79L294.94 279.21L296.91 279.64L298.88 280.07L300.85 280.51L302.82 280.95L304.79 281.4L306.75 281.86L308.72 282.31L310.69 282.77L312.66 283.23L314.63 283.69L316.6 284.15L318.56 284.62L320.53 285.08L322.5 285.54L324.47 286L326.44 286.45L328.41 286.9L330.37 287.35L332.34 287.8L334.31 288.24L336.28 288.68L338.25 289.11L340.22 289.53L342.18 289.95L344.15 290.36L346.12 290.76L348.09 291.16L350.06 291.54L352.03 291.92L353.99 292.29L355.96 292.65L357.93 293L359.9 293.34L361.87 293.67L363.84 293.98L365.8 294.29L367.77 294.58L369.74 294.86L371.71 295.13L373.68 295.39L375.65 295.63L377.61 295.86L379.58 296.08L381.55 296.28L383.52 296.47L385.49 296.65L387.46 296.81L389.42 296.96L391.39 297.09L393.36 297.21L395.33 297.32L397.3 297.41L399.27 297.48L401.23 297.54L403.2 297.59L405.17 297.62L407.14 297.64L409.11 297.64L411.08 297.63L413.04 297.6L415.01 297.56L416.98 297.51L418.95 297.44" fill="none" stroke="#00b25a" stroke-width="1.4" stroke-linejoin="round"/><g fill="#fff" stroke="#00b25a" stroke-width="1.1"><path d="M264.05 276.33L266.15 272.7L261.95 272.7Z"/><path d="M273.65 277.62L275.75 273.99L271.55 273.99Z"/><path d="M284.45 279.49L286.55 275.86L282.35 275.86Z"/><path d="M295.05 281.65L297.15 278.02L292.95 278.02Z"/><path d="M305.55 284L307.65 280.37L303.45 280.37Z"/><path d="M315.95 286.42L318.05 282.79L313.85 282.79Z"/><path d="M325.95 288.76L328.05 285.13L323.85 285.13Z"/><path d="M336.05 291.05L338.15 287.42L333.95 287.42Z"/><path d="M345.55 293.07L347.65 289.44L343.45 289.44Z"/><path d="M354.75 294.85L356.85 291.22L352.65 291.22Z"/><path d="M363.55 296.36L365.65 292.73L361.45 292.73Z"/><path d="M372.85 297.7L374.95 294.07L370.75 294.07Z"/><path d="M381.15 298.66L383.25 295.03L379.05 295.03Z"/><path d="M389.55 299.39L391.65 295.76L387.45 295.76Z"/><path d="M397.95 299.85L400.05 296.22L395.85 296.22Z"/><path d="M406.25 300.05L408.35 296.42L404.15 296.42Z"/><path d="M414.65 299.99L416.75 296.36L412.55 296.36Z"/></g><path d="M263.45 275.14L265.42 275.37L267.39 275.61L269.36 275.87L271.32 276.15L273.29 276.44L275.26 276.75L277.23 277.08L279.2 277.41L281.17 277.76L283.13 278.12L285.1 278.5L287.07 278.88L289.04 279.28L291.01 279.68L292.98 280.09L294.94 280.51L296.91 280.94L298.88 281.37L300.85 281.81L302.82 282.25L304.79 282.7L306.75 283.16L308.72 283.61L310.69 284.07L312.66 284.53L314.63 284.99L316.6 285.45L318.56 285.92L320.53 286.38L322.5 286.84L324.47 287.3L326.44 287.75L328.41 288.2L330.37 288.65L332.34 289.1L334.31 289.54L336.28 289.98L338.25 290.41L340.22 290.83L342.18 291.25L344.15 291.66L346.12 292.06L348.09 292.46L350.06 292.84L352.03 293.22L353.99 293.59L355.96 293.95L357.93 294.3L359.9 294.64L361.87 294.97L363.84 295.28L365.8 295.59L367.77 295.88L369.74 296.16L371.71 296.43L373.68 296.69L375.65 296.93L377.61 297.16L379.58 297.38L381.55 297.58L383.52 297.77L385.49 297.95L387.46 298.11L389.42 298.26L391.39 298.39L393.36 298.51L395.33 298.62L397.3 298.71L399.27 298.78L401.23 298.84L403.2 298.89L405.17 298.92L407.14 298.94L409.11 298.94L411.08 298.93L413.04 298.9L415.01 298.86L416.98 298.81L418.95 298.74" fill="none" stroke="#000" stroke-width="1.45" stroke-linejoin="round"/></g>
<path d="M296.17 319.2v-2.4M296.17 194.3v2.4M337.06 319.2v-2.4M337.06 194.3v2.4M377.96 319.2v-2.4M377.96 194.3v2.4M275.72 319.2v-1.3M275.72 194.3v1.3M316.61 319.2v-1.3M316.61 194.3v1.3M357.51 319.2v-1.3M357.51 194.3v1.3M398.4 319.2v-1.3M398.4 194.3v1.3M263.45 287.98h2.4M418.85 287.98h-2.4M263.45 256.75h2.4M418.85 256.75h-2.4M263.45 225.53h2.4M418.85 225.53h-2.4M263.45 303.59h1.3M418.85 303.59h-1.3M263.45 272.36h1.3M418.85 272.36h-1.3M263.45 241.14h1.3M418.85 241.14h-1.3M263.45 209.91h1.3M418.85 209.91h-1.3" stroke="#666" stroke-width="0.65" fill="none"/><rect x="263.45" y="194.3" width="155.4" height="124.9" fill="none" stroke="#666" stroke-width="0.7"/><g font-family='"Liberation Sans", Arial, sans-serif' font-size="7.3" fill="#222" stroke="#222" stroke-width="0.15"><text x="296.27" y="327.7" text-anchor="middle">0.06</text><text x="337.16" y="327.7" text-anchor="middle">0.08</text><text x="378.06" y="327.7" text-anchor="middle">0.10</text><text x="418.95" y="327.7" text-anchor="middle">0.12</text><text x="260.65" y="321.55" text-anchor="end">0.5</text><text x="260.65" y="290.33" text-anchor="end">1.0</text><text x="260.65" y="259.1" text-anchor="end">1.5</text><text x="260.65" y="227.88" text-anchor="end">2.0</text><text x="260.65" y="196.65" text-anchor="end">2.5</text></g><text x="341.45" y="339.2" text-anchor="middle" font-family='"Liberation Sans", Arial, sans-serif' font-size="8.2" fill="#111" stroke="#111" stroke-width="0.18">Equivalent plastic strain</text><text transform="translate(244.25 255.7) rotate(-90)" text-anchor="middle" font-family='"Liberation Sans", Arial, sans-serif' font-size="8.3" fill="#111" stroke="#111" stroke-width="0.18">r-value</text>
<rect x="345.45" y="198.5" width="70.5" height="52.8" fill="#fff"/><path d="M347.95 205.3H362.65" stroke="#3a3a3a" stroke-width="1.1" fill="none"/><g fill="#fff" stroke="#3a3a3a" stroke-width="0.9"><rect x="354.06" y="204.06" width="2.47" height="2.47"/></g><text x="365.05" y="207.9" font-family='"Liberation Sans", Arial, sans-serif' font-size="8.33" fill="#111" stroke="#111" stroke-width="0.18">CPM</text><path d="M347.95 215.5H362.65" stroke="#ff2a2a" stroke-width="1.25" fill="none"/><g fill="#fff" stroke="#ff2a2a" stroke-width="1.1"><circle cx="355.3" cy="215.5" r="1.38"/></g><text x="365.05" y="218.1" font-family='"Liberation Sans", Arial, sans-serif' font-size="8.33" fill="#111" stroke="#111" stroke-width="0.18">EBM-4R</text><path d="M347.95 225.7H362.65" stroke="#1470e6" stroke-width="1.35" fill="none"/><g fill="#fff" stroke="#1470e6" stroke-width="1.0"><path d="M355.3 223.56L357.15 226.76L353.45 226.76Z"/></g><text x="365.05" y="228.3" font-family='"Liberation Sans", Arial, sans-serif' font-size="8.33" fill="#111" stroke="#111" stroke-width="0.18">EBM-14R/AD</text><path d="M347.95 235.8H362.65" stroke="#00b25a" stroke-width="1.4" fill="none"/><g fill="#fff" stroke="#00b25a" stroke-width="1.0"><path d="M355.3 238.1L357.29 234.65L353.3 234.65Z"/></g><text x="365.05" y="238.4" font-family='"Liberation Sans", Arial, sans-serif' font-size="8.33" fill="#111" stroke="#111" stroke-width="0.18">EBM-14R/ND</text><path d="M347.95 245.9H362.65" stroke="#000" stroke-width="1.3" fill="none"/><text x="365.05" y="248.5" font-family='"Liberation Sans", Arial, sans-serif' font-size="8.33" fill="#111" stroke="#111" stroke-width="0.18">Exact</text>
<g font-family='"Liberation Serif", "Times New Roman", serif' font-size="9" fill="#222" stroke="#222" stroke-width="0.12"><text x="269.05" y="207.2">Δε</text><text x="278.95" y="209.5" font-size="6.6">xx</text><text x="285.35" y="207.2">=5</text><text x="298.15" y="207.2" font-family='"Liberation Sans", Arial, sans-serif' font-size="8.8">x</text><text x="305.35" y="207.2">10</text><text x="314.25" y="203.5" font-size="6.2">-4</text></g>
<text x="337.25" y="358.3" text-anchor="middle" font-family='"Liberation Serif", "Times New Roman", serif' font-size="9.2" fill="#000" stroke="#000" stroke-width="0.12">(<tspan font-weight="bold" font-size="10.6">d</tspan>)</text>
<path d="M63.63 381.4V506.4M105.07 381.4V506.4M146.51 381.4V506.4M32.55 464.73H187.95M32.55 423.07H187.95" stroke="#dcdcdc" stroke-width="0.7" fill="none"/>
<g clip-path="url(#c4)"><path d="M32.55 432.45L34.52 427.8L36.49 424.25L38.46 421.7L40.42 419.61L42.39 417.93L44.36 416.58L46.33 415.49L48.3 414.66L50.27 414L52.23 413.47L54.2 413.09L56.17 412.79L58.14 412.52L60.11 412.29L62.08 412.13L64.04 412.05L66.01 412.08L67.98 412.21L69.95 412.41L71.92 412.66L73.89 412.93L75.85 413.22L77.82 413.58L79.79 414.02L81.76 414.52L83.73 415.05L85.7 415.61L87.66 416.2L89.63 416.86L91.6 417.57L93.57 418.32L95.54 419.11L97.51 419.97L99.47 420.91L101.44 421.86L103.41 422.8L105.38 423.66L107.35 424.41L109.32 425.15L111.28 426.02L113.25 427.03L115.22 428.04L117.19 428.99L119.16 429.93L121.13 430.84L123.09 431.72L125.06 432.56L127.03 433.38L129 434.16L130.97 434.91L132.94 435.61L134.9 436.26L136.87 436.88L138.84 437.46L140.81 438.03L142.78 438.59L144.75 439.16L146.71 439.74L148.68 440.26L150.65 440.7L152.62 441.03L154.59 441.31L156.56 441.56L158.52 441.77L160.49 441.96L162.46 442.15L164.43 442.32L166.4 442.43L168.37 442.45L170.33 442.45L172.3 442.45L174.27 442.45L176.24 442.45L178.21 442.42L180.18 442.36L182.14 442.26L184.11 442.14L186.08 442L188.05 441.85" fill="none" stroke="#3a3a3a" stroke-width="1.1" stroke-linejoin="round"/><g fill="#fff" stroke="#3a3a3a" stroke-width="0.95"><rect x="31.8" y="429.79" width="2.6" height="2.6"/><rect x="41.55" y="416.29" width="2.6" height="2.6"/><rect x="52.25" y="411.9" width="2.6" height="2.6"/><rect x="62.85" y="410.75" width="2.6" height="2.6"/><rect x="73.25" y="411.72" width="2.6" height="2.6"/><rect x="83.95" y="414.18" width="2.6" height="2.6"/><rect x="93.65" y="417.57" width="2.6" height="2.6"/><rect x="103.65" y="422.18" width="2.6" height="2.6"/><rect x="113.15" y="426.35" width="2.6" height="2.6"/><rect x="122.65" y="430.8" width="2.6" height="2.6"/><rect x="131.85" y="434.38" width="2.6" height="2.6"/><rect x="140.85" y="437.11" width="2.6" height="2.6"/><rect x="149.45" y="439.41" width="2.6" height="2.6"/><rect x="157.85" y="440.53" width="2.6" height="2.6"/><rect x="165.95" y="441.15" width="2.6" height="2.6"/><rect x="174.05" y="441.15" width="2.6" height="2.6"/><rect x="182.35" y="440.87" width="2.6" height="2.6"/></g><path d="M32.55 432.45L34.52 427.8L36.49 424.25L38.46 421.7L40.42 419.61L42.39 417.93L44.36 416.58L46.33 415.49L48.3 414.66L50.27 414L52.23 413.47L54.2 413.09L56.17 412.79L58.14 412.52L60.11 412.29L62.08 412.13L64.04 412.05L66.01 412.08L67.98 412.21L69.95 412.41L71.92 412.66L73.89 412.93L75.85 413.22L77.82 413.58L79.79 414.02L81.76 414.52L83.73 415.05L85.7 415.61L87.66 416.2L89.63 416.86L91.6 417.57L93.57 418.32L95.54 419.11L97.51 419.97L99.47 420.91L101.44 421.86L103.41 422.8L105.38 423.66L107.35 424.41L109.32 425.15L111.28 426.02L113.25 427.03L115.22 428.04L117.19 428.99L119.16 429.93L121.13 430.84L123.09 431.72L125.06 432.56L127.03 433.38L129 434.16L130.97 434.91L132.94 435.61L134.9 436.26L136.87 436.88L138.84 437.46L140.81 438.03L142.78 438.59L144.75 439.16L146.71 439.74L148.68 440.26L150.65 440.7L152.62 441.03L154.59 441.31L156.56 441.56L158.52 441.77L160.49 441.96L162.46 442.15L164.43 442.32L166.4 442.43L168.37 442.45L170.33 442.45L172.3 442.45L174.27 442.45L176.24 442.45L178.21 442.42L180.18 442.36L182.14 442.26L184.11 442.14L186.08 442L188.05 441.85" fill="none" stroke="#ff2a2a" stroke-width="1.25" stroke-linejoin="round"/><g fill="#fff" stroke="#ff2a2a" stroke-width="1.25"><circle cx="33.1" cy="431.09" r="1.45"/><circle cx="42.85" cy="417.59" r="1.45"/><circle cx="53.55" cy="413.2" r="1.45"/><circle cx="64.15" cy="412.05" r="1.45"/><circle cx="74.55" cy="413.02" r="1.45"/><circle cx="85.25" cy="415.48" r="1.45"/><circle cx="94.95" cy="418.87" r="1.45"/><circle cx="104.95" cy="423.48" r="1.45"/><circle cx="114.45" cy="427.65" r="1.45"/><circle cx="123.95" cy="432.1" r="1.45"/><circle cx="133.15" cy="435.68" r="1.45"/><circle cx="142.15" cy="438.41" r="1.45"/><circle cx="150.75" cy="440.71" r="1.45"/><circle cx="159.15" cy="441.83" r="1.45"/><circle cx="167.25" cy="442.45" r="1.45"/><circle cx="175.35" cy="442.45" r="1.45"/><circle cx="183.65" cy="442.17" r="1.45"/></g><path d="M32.55 432.45L34.52 427.8L36.49 424.25L38.46 421.7L40.42 419.61L42.39 417.93L44.36 416.58L46.33 415.49L48.3 414.66L50.27 414L52.23 413.47L54.2 413.09L56.17 412.79L58.14 412.52L60.11 412.29L62.08 412.13L64.04 412.05L66.01 412.08L67.98 412.21L69.95 412.41L71.92 412.66L73.89 412.93L75.85 413.22L77.82 413.58L79.79 414.02L81.76 414.52L83.73 415.05L85.7 415.61L87.66 416.2L89.63 416.86L91.6 417.57L93.57 418.32L95.54 419.11L97.51 419.97L99.47 420.91L101.44 421.86L103.41 422.8L105.38 423.66L107.35 424.41L109.32 425.15L111.28 426.02L113.25 427.03L115.22 428.04L117.19 428.99L119.16 429.93L121.13 430.84L123.09 431.72L125.06 432.56L127.03 433.38L129 434.16L130.97 434.91L132.94 435.61L134.9 436.26L136.87 436.88L138.84 437.46L140.81 438.03L142.78 438.59L144.75 439.16L146.71 439.74L148.68 440.26L150.65 440.7L152.62 441.03L154.59 441.31L156.56 441.56L158.52 441.77L160.49 441.96L162.46 442.15L164.43 442.32L166.4 442.43L168.37 442.45L170.33 442.45L172.3 442.45L174.27 442.45L176.24 442.45L178.21 442.42L180.18 442.36L182.14 442.26L184.11 442.14L186.08 442L188.05 441.85" fill="none" stroke="#1470e6" stroke-width="1.35" stroke-linejoin="round"/><g fill="#fff" stroke="#1470e6" stroke-width="1.1"><path d="M33.1 428.84L35.05 432.21L31.15 432.21Z"/><path d="M42.85 415.34L44.8 418.71L40.9 418.71Z"/><path d="M53.55 410.95L55.5 414.32L51.6 414.32Z"/><path d="M64.15 409.8L66.1 413.17L62.2 413.17Z"/><path d="M74.55 410.77L76.5 414.14L72.6 414.14Z"/><path d="M85.25 413.23L87.2 416.6L83.3 416.6Z"/><path d="M94.95 416.62L96.9 419.99L93 419.99Z"/><path d="M104.95 421.23L106.9 424.6L103 424.6Z"/><path d="M114.45 425.4L116.4 428.77L112.5 428.77Z"/><path d="M123.95 429.85L125.9 433.22L122 433.22Z"/><path d="M133.15 433.43L135.1 436.8L131.2 436.8Z"/><path d="M142.15 436.16L144.1 439.53L140.2 439.53Z"/><path d="M150.75 438.46L152.7 441.83L148.8 441.83Z"/><path d="M159.15 439.58L161.1 442.95L157.2 442.95Z"/><path d="M167.25 440.2L169.2 443.57L165.3 443.57Z"/><path d="M175.35 440.2L177.3 443.57L173.4 443.57Z"/><path d="M183.65 439.92L185.6 443.29L181.7 443.29Z"/></g><path d="M32.55 432.45L34.52 427.8L36.49 424.25L38.46 421.7L40.42 419.61L42.39 417.93L44.36 416.58L46.33 415.49L48.3 414.66L50.27 414L52.23 413.47L54.2 413.09L56.17 412.79L58.14 412.52L60.11 412.29L62.08 412.13L64.04 412.05L66.01 412.08L67.98 412.21L69.95 412.41L71.92 412.66L73.89 412.93L75.85 413.22L77.82 413.58L79.79 414.02L81.76 414.52L83.73 415.05L85.7 415.61L87.66 416.2L89.63 416.86L91.6 417.57L93.57 418.32L95.54 419.11L97.51 419.97L99.47 420.91L101.44 421.86L103.41 422.8L105.38 423.66L107.35 424.41L109.32 425.15L111.28 426.02L113.25 427.03L115.22 428.04L117.19 428.99L119.16 429.93L121.13 430.84L123.09 431.72L125.06 432.56L127.03 433.38L129 434.16L130.97 434.91L132.94 435.61L134.9 436.26L136.87 436.88L138.84 437.46L140.81 438.03L142.78 438.59L144.75 439.16L146.71 439.74L148.68 440.26L150.65 440.7L152.62 441.03L154.59 441.31L156.56 441.56L158.52 441.77L160.49 441.96L162.46 442.15L164.43 442.32L166.4 442.43L168.37 442.45L170.33 442.45L172.3 442.45L174.27 442.45L176.24 442.45L178.21 442.42L180.18 442.36L182.14 442.26L184.11 442.14L186.08 442L188.05 441.85" fill="none" stroke="#00b25a" stroke-width="1.4" stroke-linejoin="round"/><g fill="#fff" stroke="#00b25a" stroke-width="1.1"><path d="M33.1 433.51L35.2 429.88L31 429.88Z"/><path d="M42.85 420.01L44.95 416.38L40.75 416.38Z"/><path d="M53.55 415.62L55.65 411.99L51.45 411.99Z"/><path d="M64.15 414.47L66.25 410.84L62.05 410.84Z"/><path d="M74.55 415.44L76.65 411.81L72.45 411.81Z"/><path d="M85.25 417.9L87.35 414.27L83.15 414.27Z"/><path d="M94.95 421.29L97.05 417.66L92.85 417.66Z"/><path d="M104.95 425.9L107.05 422.27L102.85 422.27Z"/><path d="M114.45 430.07L116.55 426.44L112.35 426.44Z"/><path d="M123.95 434.52L126.05 430.89L121.85 430.89Z"/><path d="M133.15 438.1L135.25 434.47L131.05 434.47Z"/><path d="M142.15 440.83L144.25 437.2L140.05 437.2Z"/><path d="M150.75 443.13L152.85 439.5L148.65 439.5Z"/><path d="M159.15 444.25L161.25 440.62L157.05 440.62Z"/><path d="M167.25 444.87L169.35 441.24L165.15 441.24Z"/><path d="M175.35 444.87L177.45 441.24L173.25 441.24Z"/><path d="M183.65 444.59L185.75 440.96L181.55 440.96Z"/></g><path d="M32.55 431.9L34.52 427.25L36.49 423.7L38.46 421.15L40.42 419.06L42.39 417.38L44.36 416.03L46.33 414.94L48.3 414.11L50.27 413.45L52.23 412.92L54.2 412.54L56.17 412.24L58.14 411.97L60.11 411.74L62.08 411.58L64.04 411.5L66.01 411.53L67.98 411.66L69.95 411.86L71.92 412.11L73.89 412.38L75.85 412.67L77.82 413.03L79.79 413.47L81.76 413.97L83.73 414.5L85.7 415.06L87.66 415.65L89.63 416.31L91.6 417.02L93.57 417.77L95.54 418.56L97.51 419.42L99.47 420.36L101.44 421.31L103.41 422.25L105.38 423.11L107.35 423.86L109.32 424.6L111.28 425.47L113.25 426.48L115.22 427.49L117.19 428.44L119.16 429.38L121.13 430.29L123.09 431.17L125.06 432.01L127.03 432.83L129 433.61L130.97 434.36L132.94 435.06L134.9 435.71L136.87 436.33L138.84 436.91L140.81 437.48L142.78 438.04L144.75 438.61L146.71 439.19L148.68 439.71L150.65 440.15L152.62 440.48L154.59 440.76L156.56 441.01L158.52 441.22L160.49 441.41L162.46 441.6L164.43 441.77L166.4 441.88L168.37 441.9L170.33 441.9L172.3 441.9L174.27 441.9L176.24 441.9L178.21 441.87L180.18 441.81L182.14 441.71L184.11 441.59L186.08 441.45L188.05 441.3" fill="none" stroke="#000" stroke-width="1.45" stroke-linejoin="round"/></g>
<path d="M63.63 506.4v-2.4M63.63 381.4v2.4M105.07 506.4v-2.4M105.07 381.4v2.4M146.51 506.4v-2.4M146.51 381.4v2.4M42.91 506.4v-1.3M42.91 381.4v1.3M84.35 506.4v-1.3M84.35 381.4v1.3M125.79 506.4v-1.3M125.79 381.4v1.3M167.23 506.4v-1.3M167.23 381.4v1.3M32.55 464.73h2.4M187.95 464.73h-2.4M32.55 423.07h2.4M187.95 423.07h-2.4M32.55 485.57h1.3M187.95 485.57h-1.3M32.55 443.9h1.3M187.95 443.9h-1.3M32.55 402.23h1.3M187.95 402.23h-1.3" stroke="#666" stroke-width="0.65" fill="none"/><rect x="32.55" y="381.4" width="155.4" height="125" fill="none" stroke="#666" stroke-width="0.7"/><g font-family='"Liberation Sans", Arial, sans-serif' font-size="7.3" fill="#222" stroke="#222" stroke-width="0.15"><text x="63.73" y="514.9" text-anchor="middle">0.06</text><text x="105.17" y="514.9" text-anchor="middle">0.08</text><text x="146.61" y="514.9" text-anchor="middle">0.10</text><text x="188.05" y="514.9" text-anchor="middle">0.12</text><text x="29.75" y="508.75" text-anchor="end">200</text><text x="29.75" y="467.08" text-anchor="end">250</text><text x="29.75" y="425.42" text-anchor="end">300</text><text x="29.75" y="383.75" text-anchor="end">350</text></g><text x="110.05" y="526.4" text-anchor="middle" font-family='"Liberation Sans", Arial, sans-serif' font-size="8.2" fill="#111" stroke="#111" stroke-width="0.18">Equivalent plastic strain</text><text transform="translate(10.55 440.5) rotate(-90)" text-anchor="middle" font-family='"Liberation Sans", Arial, sans-serif' font-size="8.3" fill="#111" stroke="#111" stroke-width="0.18">True stress [MPa]</text>
<rect x="114.55" y="449" width="70.5" height="52.4" fill="#fff"/><path d="M117.05 455.8H131.75" stroke="#3a3a3a" stroke-width="1.1" fill="none"/><g fill="#fff" stroke="#3a3a3a" stroke-width="0.9"><rect x="123.17" y="454.56" width="2.47" height="2.47"/></g><text x="134.15" y="458.4" font-family='"Liberation Sans", Arial, sans-serif' font-size="8.33" fill="#111" stroke="#111" stroke-width="0.18">CPM</text><path d="M117.05 466.1H131.75" stroke="#ff2a2a" stroke-width="1.25" fill="none"/><g fill="#fff" stroke="#ff2a2a" stroke-width="1.1"><circle cx="124.4" cy="466.1" r="1.38"/></g><text x="134.15" y="468.7" font-family='"Liberation Sans", Arial, sans-serif' font-size="8.33" fill="#111" stroke="#111" stroke-width="0.18">EBM-4R</text><path d="M117.05 476H131.75" stroke="#1470e6" stroke-width="1.35" fill="none"/><g fill="#fff" stroke="#1470e6" stroke-width="1.0"><path d="M124.4 473.86L126.25 477.06L122.55 477.06Z"/></g><text x="134.15" y="478.6" font-family='"Liberation Sans", Arial, sans-serif' font-size="8.33" fill="#111" stroke="#111" stroke-width="0.18">EBM-14R/AD</text><path d="M117.05 485.9H131.75" stroke="#00b25a" stroke-width="1.4" fill="none"/><g fill="#fff" stroke="#00b25a" stroke-width="1.0"><path d="M124.4 488.2L126.4 484.75L122.41 484.75Z"/></g><text x="134.15" y="488.5" font-family='"Liberation Sans", Arial, sans-serif' font-size="8.33" fill="#111" stroke="#111" stroke-width="0.18">EBM-14R/ND</text><path d="M117.05 496H131.75" stroke="#000" stroke-width="1.3" fill="none"/><text x="134.15" y="498.6" font-family='"Liberation Sans", Arial, sans-serif' font-size="8.33" fill="#111" stroke="#111" stroke-width="0.18">Exact</text>
<g font-family='"Liberation Serif", "Times New Roman", serif' font-size="9" fill="#222" stroke="#222" stroke-width="0.12"><text x="37.55" y="394.3">Δε</text><text x="47.45" y="396.6" font-size="6.6">xx</text><text x="53.85" y="394.3">=5</text><text x="66.65" y="394.3" font-family='"Liberation Sans", Arial, sans-serif' font-size="8.8">x</text><text x="73.85" y="394.3">10</text><text x="82.75" y="390.6" font-size="6.2">-6</text></g>
<text x="106.35" y="545.4" text-anchor="middle" font-family='"Liberation Serif", "Times New Roman", serif' font-size="9.2" fill="#000" stroke="#000" stroke-width="0.12">(<tspan font-weight="bold" font-size="10.6">e</tspan>)</text>
<path d="M296.17 381.4V506.4M337.06 381.4V506.4M377.96 381.4V506.4M263.45 475.15H418.85M263.45 443.9H418.85M263.45 412.65H418.85" stroke="#dcdcdc" stroke-width="0.7" fill="none"/>
<g clip-path="url(#c5)"><path d="M263.45 461.29L265.42 461.52L267.39 461.76L269.36 462.02L271.32 462.3L273.29 462.59L275.26 462.9L277.23 463.23L279.2 463.56L281.17 463.91L283.13 464.27L285.1 464.65L287.07 465.03L289.04 465.43L291.01 465.83L292.98 466.24L294.94 466.66L296.91 467.09L298.88 467.52L300.85 467.96L302.82 468.4L304.79 468.85L306.75 469.31L308.72 469.76L310.69 470.22L312.66 470.68L314.63 471.14L316.6 471.6L318.56 472.07L320.53 472.53L322.5 472.99L324.47 473.45L326.44 473.9L328.41 474.35L330.37 474.8L332.34 475.25L334.31 475.69L336.28 476.13L338.25 476.56L340.22 476.98L342.18 477.4L344.15 477.81L346.12 478.21L348.09 478.61L350.06 478.99L352.03 479.37L353.99 479.74L355.96 480.1L357.93 480.45L359.9 480.79L361.87 481.12L363.84 481.43L365.8 481.74L367.77 482.03L369.74 482.31L371.71 482.58L373.68 482.84L375.65 483.08L377.61 483.31L379.58 483.53L381.55 483.73L383.52 483.92L385.49 484.1L387.46 484.26L389.42 484.41L391.39 484.54L393.36 484.66L395.33 484.77L397.3 484.86L399.27 484.93L401.23 484.99L403.2 485.04L405.17 485.07L407.14 485.09L409.11 485.09L411.08 485.08L413.04 485.05L415.01 485.01L416.98 484.96L418.95 484.89" fill="none" stroke="#3a3a3a" stroke-width="1.1" stroke-linejoin="round"/><g fill="#fff" stroke="#3a3a3a" stroke-width="0.95"><rect x="262.75" y="460.06" width="2.6" height="2.6"/><rect x="272.35" y="461.35" width="2.6" height="2.6"/><rect x="283.15" y="463.22" width="2.6" height="2.6"/><rect x="293.75" y="465.38" width="2.6" height="2.6"/><rect x="304.25" y="467.73" width="2.6" height="2.6"/><rect x="314.65" y="470.15" width="2.6" height="2.6"/><rect x="324.65" y="472.49" width="2.6" height="2.6"/><rect x="334.75" y="474.78" width="2.6" height="2.6"/><rect x="344.25" y="476.8" width="2.6" height="2.6"/><rect x="353.45" y="478.58" width="2.6" height="2.6"/><rect x="362.25" y="480.09" width="2.6" height="2.6"/><rect x="371.55" y="481.43" width="2.6" height="2.6"/><rect x="379.85" y="482.39" width="2.6" height="2.6"/><rect x="388.25" y="483.12" width="2.6" height="2.6"/><rect x="396.65" y="483.58" width="2.6" height="2.6"/><rect x="404.95" y="483.78" width="2.6" height="2.6"/><rect x="413.35" y="483.72" width="2.6" height="2.6"/></g><path d="M263.45 461.29L265.42 461.52L267.39 461.76L269.36 462.02L271.32 462.3L273.29 462.59L275.26 462.9L277.23 463.23L279.2 463.56L281.17 463.91L283.13 464.27L285.1 464.65L287.07 465.03L289.04 465.43L291.01 465.83L292.98 466.24L294.94 466.66L296.91 467.09L298.88 467.52L300.85 467.96L302.82 468.4L304.79 468.85L306.75 469.31L308.72 469.76L310.69 470.22L312.66 470.68L314.63 471.14L316.6 471.6L318.56 472.07L320.53 472.53L322.5 472.99L324.47 473.45L326.44 473.9L328.41 474.35L330.37 474.8L332.34 475.25L334.31 475.69L336.28 476.13L338.25 476.56L340.22 476.98L342.18 477.4L344.15 477.81L346.12 478.21L348.09 478.61L350.06 478.99L352.03 479.37L353.99 479.74L355.96 480.1L357.93 480.45L359.9 480.79L361.87 481.12L363.84 481.43L365.8 481.74L367.77 482.03L369.74 482.31L371.71 482.58L373.68 482.84L375.65 483.08L377.61 483.31L379.58 483.53L381.55 483.73L383.52 483.92L385.49 484.1L387.46 484.26L389.42 484.41L391.39 484.54L393.36 484.66L395.33 484.77L397.3 484.86L399.27 484.93L401.23 484.99L403.2 485.04L405.17 485.07L407.14 485.09L409.11 485.09L411.08 485.08L413.04 485.05L415.01 485.01L416.98 484.96L418.95 484.89" fill="none" stroke="#ff2a2a" stroke-width="1.25" stroke-linejoin="round"/><g fill="#fff" stroke="#ff2a2a" stroke-width="1.25"><circle cx="264.05" cy="461.36" r="1.45"/><circle cx="273.65" cy="462.65" r="1.45"/><circle cx="284.45" cy="464.52" r="1.45"/><circle cx="295.05" cy="466.68" r="1.45"/><circle cx="305.55" cy="469.03" r="1.45"/><circle cx="315.95" cy="471.45" r="1.45"/><circle cx="325.95" cy="473.79" r="1.45"/><circle cx="336.05" cy="476.08" r="1.45"/><circle cx="345.55" cy="478.1" r="1.45"/><circle cx="354.75" cy="479.88" r="1.45"/><circle cx="363.55" cy="481.39" r="1.45"/><circle cx="372.85" cy="482.73" r="1.45"/><circle cx="381.15" cy="483.69" r="1.45"/><circle cx="389.55" cy="484.42" r="1.45"/><circle cx="397.95" cy="484.88" r="1.45"/><circle cx="406.25" cy="485.08" r="1.45"/><circle cx="414.65" cy="485.02" r="1.45"/></g><path d="M263.45 461.29L265.42 461.52L267.39 461.76L269.36 462.02L271.32 462.3L273.29 462.59L275.26 462.9L277.23 463.23L279.2 463.56L281.17 463.91L283.13 464.27L285.1 464.65L287.07 465.03L289.04 465.43L291.01 465.83L292.98 466.24L294.94 466.66L296.91 467.09L298.88 467.52L300.85 467.96L302.82 468.4L304.79 468.85L306.75 469.31L308.72 469.76L310.69 470.22L312.66 470.68L314.63 471.14L316.6 471.6L318.56 472.07L320.53 472.53L322.5 472.99L324.47 473.45L326.44 473.9L328.41 474.35L330.37 474.8L332.34 475.25L334.31 475.69L336.28 476.13L338.25 476.56L340.22 476.98L342.18 477.4L344.15 477.81L346.12 478.21L348.09 478.61L350.06 478.99L352.03 479.37L353.99 479.74L355.96 480.1L357.93 480.45L359.9 480.79L361.87 481.12L363.84 481.43L365.8 481.74L367.77 482.03L369.74 482.31L371.71 482.58L373.68 482.84L375.65 483.08L377.61 483.31L379.58 483.53L381.55 483.73L383.52 483.92L385.49 484.1L387.46 484.26L389.42 484.41L391.39 484.54L393.36 484.66L395.33 484.77L397.3 484.86L399.27 484.93L401.23 484.99L403.2 485.04L405.17 485.07L407.14 485.09L409.11 485.09L411.08 485.08L413.04 485.05L415.01 485.01L416.98 484.96L418.95 484.89" fill="none" stroke="#1470e6" stroke-width="1.35" stroke-linejoin="round"/><g fill="#fff" stroke="#1470e6" stroke-width="1.1"><path d="M264.05 459.11L266 462.48L262.1 462.48Z"/><path d="M273.65 460.4L275.6 463.77L271.7 463.77Z"/><path d="M284.45 462.27L286.4 465.64L282.5 465.64Z"/><path d="M295.05 464.43L297 467.8L293.1 467.8Z"/><path d="M305.55 466.78L307.5 470.15L303.6 470.15Z"/><path d="M315.95 469.2L317.9 472.57L314 472.57Z"/><path d="M325.95 471.54L327.9 474.91L324 474.91Z"/><path d="M336.05 473.83L338 477.2L334.1 477.2Z"/><path d="M345.55 475.85L347.5 479.22L343.6 479.22Z"/><path d="M354.75 477.63L356.7 481L352.8 481Z"/><path d="M363.55 479.14L365.5 482.51L361.6 482.51Z"/><path d="M372.85 480.48L374.8 483.85L370.9 483.85Z"/><path d="M381.15 481.44L383.1 484.81L379.2 484.81Z"/><path d="M389.55 482.17L391.5 485.54L387.6 485.54Z"/><path d="M397.95 482.63L399.9 486L396 486Z"/><path d="M406.25 482.83L408.2 486.2L404.3 486.2Z"/><path d="M414.65 482.77L416.6 486.14L412.7 486.14Z"/></g><path d="M263.45 461.29L265.42 461.52L267.39 461.76L269.36 462.02L271.32 462.3L273.29 462.59L275.26 462.9L277.23 463.23L279.2 463.56L281.17 463.91L283.13 464.27L285.1 464.65L287.07 465.03L289.04 465.43L291.01 465.83L292.98 466.24L294.94 466.66L296.91 467.09L298.88 467.52L300.85 467.96L302.82 468.4L304.79 468.85L306.75 469.31L308.72 469.76L310.69 470.22L312.66 470.68L314.63 471.14L316.6 471.6L318.56 472.07L320.53 472.53L322.5 472.99L324.47 473.45L326.44 473.9L328.41 474.35L330.37 474.8L332.34 475.25L334.31 475.69L336.28 476.13L338.25 476.56L340.22 476.98L342.18 477.4L344.15 477.81L346.12 478.21L348.09 478.61L350.06 478.99L352.03 479.37L353.99 479.74L355.96 480.1L357.93 480.45L359.9 480.79L361.87 481.12L363.84 481.43L365.8 481.74L367.77 482.03L369.74 482.31L371.71 482.58L373.68 482.84L375.65 483.08L377.61 483.31L379.58 483.53L381.55 483.73L383.52 483.92L385.49 484.1L387.46 484.26L389.42 484.41L391.39 484.54L393.36 484.66L395.33 484.77L397.3 484.86L399.27 484.93L401.23 484.99L403.2 485.04L405.17 485.07L407.14 485.09L409.11 485.09L411.08 485.08L413.04 485.05L415.01 485.01L416.98 484.96L418.95 484.89" fill="none" stroke="#00b25a" stroke-width="1.4" stroke-linejoin="round"/><g fill="#fff" stroke="#00b25a" stroke-width="1.1"><path d="M264.05 463.78L266.15 460.15L261.95 460.15Z"/><path d="M273.65 465.07L275.75 461.44L271.55 461.44Z"/><path d="M284.45 466.94L286.55 463.31L282.35 463.31Z"/><path d="M295.05 469.1L297.15 465.47L292.95 465.47Z"/><path d="M305.55 471.45L307.65 467.82L303.45 467.82Z"/><path d="M315.95 473.87L318.05 470.24L313.85 470.24Z"/><path d="M325.95 476.21L328.05 472.58L323.85 472.58Z"/><path d="M336.05 478.5L338.15 474.87L333.95 474.87Z"/><path d="M345.55 480.52L347.65 476.89L343.45 476.89Z"/><path d="M354.75 482.3L356.85 478.67L352.65 478.67Z"/><path d="M363.55 483.81L365.65 480.18L361.45 480.18Z"/><path d="M372.85 485.15L374.95 481.52L370.75 481.52Z"/><path d="M381.15 486.11L383.25 482.48L379.05 482.48Z"/><path d="M389.55 486.84L391.65 483.21L387.45 483.21Z"/><path d="M397.95 487.3L400.05 483.67L395.85 483.67Z"/><path d="M406.25 487.5L408.35 483.87L404.15 483.87Z"/><path d="M414.65 487.44L416.75 483.81L412.55 483.81Z"/></g><path d="M263.45 462.24L265.42 462.47L267.39 462.71L269.36 462.97L271.32 463.25L273.29 463.54L275.26 463.85L277.23 464.18L279.2 464.51L281.17 464.86L283.13 465.22L285.1 465.6L287.07 465.98L289.04 466.38L291.01 466.78L292.98 467.19L294.94 467.61L296.91 468.04L298.88 468.47L300.85 468.91L302.82 469.35L304.79 469.8L306.75 470.26L308.72 470.71L310.69 471.17L312.66 471.63L314.63 472.09L316.6 472.55L318.56 473.02L320.53 473.48L322.5 473.94L324.47 474.4L326.44 474.85L328.41 475.3L330.37 475.75L332.34 476.2L334.31 476.64L336.28 477.08L338.25 477.51L340.22 477.93L342.18 478.35L344.15 478.76L346.12 479.16L348.09 479.56L350.06 479.94L352.03 480.32L353.99 480.69L355.96 481.05L357.93 481.4L359.9 481.74L361.87 482.07L363.84 482.38L365.8 482.69L367.77 482.98L369.74 483.26L371.71 483.53L373.68 483.79L375.65 484.03L377.61 484.26L379.58 484.48L381.55 484.68L383.52 484.87L385.49 485.05L387.46 485.21L389.42 485.36L391.39 485.49L393.36 485.61L395.33 485.72L397.3 485.81L399.27 485.88L401.23 485.94L403.2 485.99L405.17 486.02L407.14 486.04L409.11 486.04L411.08 486.03L413.04 486L415.01 485.96L416.98 485.91L418.95 485.84" fill="none" stroke="#000" stroke-width="1.45" stroke-linejoin="round"/></g>
<path d="M296.17 506.4v-2.4M296.17 381.4v2.4M337.06 506.4v-2.4M337.06 381.4v2.4M377.96 506.4v-2.4M377.96 381.4v2.4M275.72 506.4v-1.3M275.72 381.4v1.3M316.61 506.4v-1.3M316.61 381.4v1.3M357.51 506.4v-1.3M357.51 381.4v1.3M398.4 506.4v-1.3M398.4 381.4v1.3M263.45 475.15h2.4M418.85 475.15h-2.4M263.45 443.9h2.4M418.85 443.9h-2.4M263.45 412.65h2.4M418.85 412.65h-2.4M263.45 490.77h1.3M418.85 490.77h-1.3M263.45 459.52h1.3M418.85 459.52h-1.3M263.45 428.27h1.3M418.85 428.27h-1.3M263.45 397.02h1.3M418.85 397.02h-1.3" stroke="#666" stroke-width="0.65" fill="none"/><rect x="263.45" y="381.4" width="155.4" height="125" fill="none" stroke="#666" stroke-width="0.7"/><g font-family='"Liberation Sans", Arial, sans-serif' font-size="7.3" fill="#222" stroke="#222" stroke-width="0.15"><text x="296.27" y="514.9" text-anchor="middle">0.06</text><text x="337.16" y="514.9" text-anchor="middle">0.08</text><text x="378.06" y="514.9" text-anchor="middle">0.10</text><text x="418.95" y="514.9" text-anchor="middle">0.12</text><text x="260.65" y="508.75" text-anchor="end">0.5</text><text x="260.65" y="477.5" text-anchor="end">1.0</text><text x="260.65" y="446.25" text-anchor="end">1.5</text><text x="260.65" y="415" text-anchor="end">2.0</text><text x="260.65" y="383.75" text-anchor="end">2.5</text></g><text x="341.45" y="526.4" text-anchor="middle" font-family='"Liberation Sans", Arial, sans-serif' font-size="8.2" fill="#111" stroke="#111" stroke-width="0.18">Equivalent plastic strain</text><text transform="translate(244.25 442.8) rotate(-90)" text-anchor="middle" font-family='"Liberation Sans", Arial, sans-serif' font-size="8.3" fill="#111" stroke="#111" stroke-width="0.18">r-value</text>
<rect x="345.45" y="385.6" width="70.5" height="52.8" fill="#fff"/><path d="M347.95 392.4H362.65" stroke="#3a3a3a" stroke-width="1.1" fill="none"/><g fill="#fff" stroke="#3a3a3a" stroke-width="0.9"><rect x="354.06" y="391.16" width="2.47" height="2.47"/></g><text x="365.05" y="395" font-family='"Liberation Sans", Arial, sans-serif' font-size="8.33" fill="#111" stroke="#111" stroke-width="0.18">CPM</text><path d="M347.95 402.6H362.65" stroke="#ff2a2a" stroke-width="1.25" fill="none"/><g fill="#fff" stroke="#ff2a2a" stroke-width="1.1"><circle cx="355.3" cy="402.6" r="1.38"/></g><text x="365.05" y="405.2" font-family='"Liberation Sans", Arial, sans-serif' font-size="8.33" fill="#111" stroke="#111" stroke-width="0.18">EBM-4R</text><path d="M347.95 412.8H362.65" stroke="#1470e6" stroke-width="1.35" fill="none"/><g fill="#fff" stroke="#1470e6" stroke-width="1.0"><path d="M355.3 410.66L357.15 413.86L353.45 413.86Z"/></g><text x="365.05" y="415.4" font-family='"Liberation Sans", Arial, sans-serif' font-size="8.33" fill="#111" stroke="#111" stroke-width="0.18">EBM-14R/AD</text><path d="M347.95 422.9H362.65" stroke="#00b25a" stroke-width="1.4" fill="none"/><g fill="#fff" stroke="#00b25a" stroke-width="1.0"><path d="M355.3 425.2L357.29 421.75L353.3 421.75Z"/></g><text x="365.05" y="425.5" font-family='"Liberation Sans", Arial, sans-serif' font-size="8.33" fill="#111" stroke="#111" stroke-width="0.18">EBM-14R/ND</text><path d="M347.95 433H362.65" stroke="#000" stroke-width="1.3" fill="none"/><text x="365.05" y="435.6" font-family='"Liberation Sans", Arial, sans-serif' font-size="8.33" fill="#111" stroke="#111" stroke-width="0.18">Exact</text>
<g font-family='"Liberation Serif", "Times New Roman", serif' font-size="9" fill="#222" stroke="#222" stroke-width="0.12"><text x="269.05" y="394.3">Δε</text><text x="278.95" y="396.6" font-size="6.6">xx</text><text x="285.35" y="394.3">=5</text><text x="298.15" y="394.3" font-family='"Liberation Sans", Arial, sans-serif' font-size="8.8">x</text><text x="305.35" y="394.3">10</text><text x="314.25" y="390.6" font-size="6.2">-6</text></g>
<text x="337.25" y="545.4" text-anchor="middle" font-family='"Liberation Serif", "Times New Roman", serif' font-size="9.2" fill="#000" stroke="#000" stroke-width="0.12">(<tspan font-weight="bold" font-size="10.6">f</tspan>)</text>
</svg>
</body>
</html>
